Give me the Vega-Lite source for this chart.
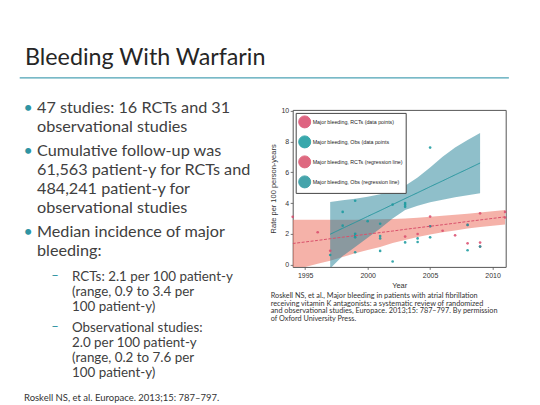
{
  "$schema": "https://vega.github.io/schema/vega-lite/v6.json",
  "padding": {"left": 19, "top": 45.6, "right": 0, "bottom": 0},
  "background": "white",
  "config": {
    "view": {"stroke": "transparent"},
    "title": {"font": "Lato", "fontWeight": "normal", "offset": 0, "frame": "group", "color": "#404040"},
    "axis": {"grid": false, "domain": false, "tickColor": "#555", "tickWidth": 0.8, "tickSize": 2.5, "labelFont": "Liberation Sans", "titleFont": "Liberation Sans", "labelFontSize": 7, "titleFontSize": 7.5, "titleFontWeight": "normal", "labelColor": "#333", "titleColor": "#333", "labelOverlap": false},
    "legend": {
      "title": null, "orient": "top-left", "offset": 3, "padding": 2.5,
      "strokeColor": "#444", "fillColor": "white",
      "labelFont": "Liberation Sans", "labelFontSize": 5.3, "labelColor": "#222", "labelLimit": 300, "labelOffset": 1.5,
      "rowPadding": 3, "symbolSize": 144, "symbolStrokeWidth": 1
    }
  },
  "datasets": {
    "pts": [
      {"year": 1994, "rate": 3.1, "s": "Major bleeding, RCTs (data points)"},
      {"year": 1996, "rate": 2.1, "s": "Major bleeding, RCTs (data points)"},
      {"year": 1997, "rate": 0.9, "s": "Major bleeding, RCTs (data points)"},
      {"year": 2003, "rate": 1.82, "s": "Major bleeding, RCTs (data points)"},
      {"year": 2004, "rate": 1.99, "s": "Major bleeding, RCTs (data points)"},
      {"year": 2005, "rate": 3.12, "s": "Major bleeding, RCTs (data points)"},
      {"year": 2005, "rate": 2.49, "s": "Major bleeding, RCTs (data points)"},
      {"year": 2006, "rate": 2.2, "s": "Major bleeding, RCTs (data points)"},
      {"year": 2007, "rate": 1.9, "s": "Major bleeding, RCTs (data points)"},
      {"year": 2008, "rate": 1.38, "s": "Major bleeding, RCTs (data points)"},
      {"year": 2008, "rate": 2.58, "s": "Major bleeding, RCTs (data points)"},
      {"year": 2009, "rate": 3.33, "s": "Major bleeding, RCTs (data points)"},
      {"year": 2009, "rate": 1.43, "s": "Major bleeding, RCTs (data points)"},
      {"year": 2009, "rate": 1.17, "s": "Major bleeding, RCTs (data points)"},
      {"year": 2011, "rate": 3.42, "s": "Major bleeding, RCTs (data points)"},
      {"year": 2011, "rate": 3.06, "s": "Major bleeding, RCTs (data points)"},
      {"year": 1997, "rate": 0.62, "s": "Major bleeding, Obs (data points"},
      {"year": 1998, "rate": 3.42, "s": "Major bleeding, Obs (data points"},
      {"year": 1998, "rate": 2.53, "s": "Major bleeding, Obs (data points"},
      {"year": 1999, "rate": 4.88, "s": "Major bleeding, Obs (data points"},
      {"year": 1999, "rate": 4.15, "s": "Major bleeding, Obs (data points"},
      {"year": 1999, "rate": 2.0, "s": "Major bleeding, Obs (data points"},
      {"year": 1999, "rate": 1.88, "s": "Major bleeding, Obs (data points"},
      {"year": 1999, "rate": 1.77, "s": "Major bleeding, Obs (data points"},
      {"year": 1999, "rate": 0.8, "s": "Major bleeding, Obs (data points"},
      {"year": 2000, "rate": 5.95, "s": "Major bleeding, Obs (data points"},
      {"year": 2000, "rate": 2.82, "s": "Major bleeding, Obs (data points"},
      {"year": 2001, "rate": 2.65, "s": "Major bleeding, Obs (data points"},
      {"year": 2001, "rate": 1.86, "s": "Major bleeding, Obs (data points"},
      {"year": 2001, "rate": 1.7, "s": "Major bleeding, Obs (data points"},
      {"year": 2001, "rate": 0.89, "s": "Major bleeding, Obs (data points"},
      {"year": 2002, "rate": 7.2, "s": "Major bleeding, Obs (data points"},
      {"year": 2002, "rate": 3.9, "s": "Major bleeding, Obs (data points"},
      {"year": 2002, "rate": 0.2, "s": "Major bleeding, Obs (data points"},
      {"year": 2003, "rate": 4.0, "s": "Major bleeding, Obs (data points"},
      {"year": 2003, "rate": 3.88, "s": "Major bleeding, Obs (data points"},
      {"year": 2003, "rate": 3.75, "s": "Major bleeding, Obs (data points"},
      {"year": 2003, "rate": 1.44, "s": "Major bleeding, Obs (data points"},
      {"year": 2004, "rate": 1.7, "s": "Major bleeding, Obs (data points"},
      {"year": 2004, "rate": 1.47, "s": "Major bleeding, Obs (data points"},
      {"year": 2005, "rate": 7.6, "s": "Major bleeding, Obs (data points"},
      {"year": 2005, "rate": 2.49, "s": "Major bleeding, Obs (data points"},
      {"year": 2005, "rate": 1.77, "s": "Major bleeding, Obs (data points"},
      {"year": 2008, "rate": 2.58, "s": "Major bleeding, Obs (data points"},
      {"year": 2008, "rate": 0.93, "s": "Major bleeding, Obs (data points"},
      {"year": 2009, "rate": 1.17, "s": "Major bleeding, Obs (data points"}
    ],
    "fits": [
      {"year": 1994, "fit": 1.37, "lo": -0.45, "hi": 2.92, "s": "Major bleeding, RCTs (regression line)"},
      {"year": 1995, "fit": 1.47, "lo": -0.15, "hi": 2.92, "s": "Major bleeding, RCTs (regression line)"},
      {"year": 1996, "fit": 1.57, "lo": 0.05, "hi": 2.92, "s": "Major bleeding, RCTs (regression line)"},
      {"year": 1997, "fit": 1.68, "lo": 0.25, "hi": 2.92, "s": "Major bleeding, RCTs (regression line)"},
      {"year": 1998, "fit": 1.78, "lo": 0.5, "hi": 2.92, "s": "Major bleeding, RCTs (regression line)"},
      {"year": 1999, "fit": 1.88, "lo": 0.73, "hi": 2.92, "s": "Major bleeding, RCTs (regression line)"},
      {"year": 2000, "fit": 1.98, "lo": 0.95, "hi": 2.93, "s": "Major bleeding, RCTs (regression line)"},
      {"year": 2001, "fit": 2.08, "lo": 1.15, "hi": 2.94, "s": "Major bleeding, RCTs (regression line)"},
      {"year": 2002, "fit": 2.18, "lo": 1.4, "hi": 2.96, "s": "Major bleeding, RCTs (regression line)"},
      {"year": 2003, "fit": 2.29, "lo": 1.6, "hi": 3.0, "s": "Major bleeding, RCTs (regression line)"},
      {"year": 2004, "fit": 2.39, "lo": 1.8, "hi": 3.05, "s": "Major bleeding, RCTs (regression line)"},
      {"year": 2005, "fit": 2.49, "lo": 1.95, "hi": 3.1, "s": "Major bleeding, RCTs (regression line)"},
      {"year": 2006, "fit": 2.59, "lo": 2.1, "hi": 3.17, "s": "Major bleeding, RCTs (regression line)"},
      {"year": 2007, "fit": 2.69, "lo": 2.22, "hi": 3.24, "s": "Major bleeding, RCTs (regression line)"},
      {"year": 2008, "fit": 2.8, "lo": 2.35, "hi": 3.31, "s": "Major bleeding, RCTs (regression line)"},
      {"year": 2009, "fit": 2.9, "lo": 2.45, "hi": 3.39, "s": "Major bleeding, RCTs (regression line)"},
      {"year": 2010, "fit": 3.0, "lo": 2.52, "hi": 3.46, "s": "Major bleeding, RCTs (regression line)"},
      {"year": 2011, "fit": 3.1, "lo": 2.6, "hi": 3.55, "s": "Major bleeding, RCTs (regression line)"},
      {"year": 1997, "fit": 1.97, "lo": -0.25, "hi": 4.07, "s": "Major bleeding, Obs (regression line)"},
      {"year": 1998, "fit": 2.36, "lo": 0.55, "hi": 4.18, "s": "Major bleeding, Obs (regression line)"},
      {"year": 1999, "fit": 2.74, "lo": 1.15, "hi": 4.28, "s": "Major bleeding, Obs (regression line)"},
      {"year": 2000, "fit": 3.13, "lo": 1.75, "hi": 4.4, "s": "Major bleeding, Obs (regression line)"},
      {"year": 2001, "fit": 3.51, "lo": 2.35, "hi": 4.57, "s": "Major bleeding, Obs (regression line)"},
      {"year": 2002, "fit": 3.9, "lo": 3.0, "hi": 4.8, "s": "Major bleeding, Obs (regression line)"},
      {"year": 2003, "fit": 4.29, "lo": 3.55, "hi": 5.12, "s": "Major bleeding, Obs (regression line)"},
      {"year": 2004, "fit": 4.67, "lo": 3.82, "hi": 5.65, "s": "Major bleeding, Obs (regression line)"},
      {"year": 2005, "fit": 5.06, "lo": 4.05, "hi": 6.3, "s": "Major bleeding, Obs (regression line)"},
      {"year": 2006, "fit": 5.44, "lo": 4.22, "hi": 7.0, "s": "Major bleeding, Obs (regression line)"},
      {"year": 2007, "fit": 5.83, "lo": 4.38, "hi": 7.6, "s": "Major bleeding, Obs (regression line)"},
      {"year": 2008, "fit": 6.21, "lo": 4.5, "hi": 8.1, "s": "Major bleeding, Obs (regression line)"},
      {"year": 2009, "fit": 6.6, "lo": 4.63, "hi": 8.55, "s": "Major bleeding, Obs (regression line)"}
    ]
  },
  "spacing": 17.3,
  "resolve": {"scale": {"color": "independent"}, "legend": {"color": "independent"}},
  "vconcat": [
    {
      "width": 488, "height": 0.01,
      "view": {"stroke": "#4da3b5", "strokeWidth": 1.2},
      "data": {"values": []}, "mark": "text",
      "title": {"text": "Bleeding With Warfarin", "anchor": "start", "fontSize": 23.3, "dx": 5, "offset": 7.1, "color": "#262626"}
    },
    {
      "spacing": 14.7,
      "resolve": {"scale": {"color": "independent"}, "legend": {"color": "independent"}},
      "hconcat": [
        {
          "spacing": 0,
          "vconcat": [
            {"spacing": 0, "hconcat": [
              {"width": 16.3, "height": 0.01, "data": {"values": []}, "mark": "text", "title": {"text": "•", "orient": "bottom", "fontSize": 16, "anchor": "middle", "color": "#2f94a3"}},
              {"width": 216.3, "height": 0.01, "data": {"values": []}, "mark": "text", "title": {"text": ["47 studies: 16 RCTs and 31", "observational studies"], "orient": "bottom", "fontSize": 16.2, "lineHeight": 18.7, "anchor": "start"}}
            ]},
            {"spacing": 0, "hconcat": [
              {"width": 16.3, "height": 4.6, "data": {"values": []}, "mark": "text", "title": {"text": "•", "orient": "bottom", "fontSize": 16, "anchor": "middle", "color": "#2f94a3"}},
              {"width": 216.3, "height": 4.6, "data": {"values": []}, "mark": "text", "title": {"text": ["Cumulative follow-up was", "61,563 patient-y for RCTs and", "484,241 patient-y for", "observational studies"], "orient": "bottom", "fontSize": 16.2, "lineHeight": 18.7, "anchor": "start"}}
            ]},
            {"spacing": 0, "hconcat": [
              {"width": 16.3, "height": 4.3, "data": {"values": []}, "mark": "text", "title": {"text": "•", "orient": "bottom", "fontSize": 16, "anchor": "middle", "color": "#2f94a3"}},
              {"width": 216.3, "height": 4.3, "data": {"values": []}, "mark": "text", "title": {"text": ["Median incidence of major", "bleeding:"], "orient": "bottom", "fontSize": 16.2, "lineHeight": 18.7, "anchor": "start"}}
            ]},
            {"spacing": 0, "hconcat": [
              {"width": 51.2, "height": 6.1, "data": {"values": []}, "mark": "text", "title": {"text": "–", "orient": "bottom", "fontSize": 13, "anchor": "start", "dx": 31.2, "color": "#2f94a3"}},
              {"width": 181.4, "height": 6.1, "data": {"values": []}, "mark": "text", "title": {"text": ["RCTs: 2.1 per 100 patient-y", "(range, 0.9 to 3.4 per", "100 patient-y)"], "orient": "bottom", "fontSize": 13.4, "lineHeight": 15, "anchor": "start"}}
            ]},
            {"spacing": 0, "hconcat": [
              {"width": 51.2, "height": 3.3, "data": {"values": []}, "mark": "text", "title": {"text": "–", "orient": "bottom", "fontSize": 13, "anchor": "start", "dx": 31.2, "color": "#2f94a3"}},
              {"width": 181.4, "height": 3.3, "data": {"values": []}, "mark": "text", "title": {"text": ["Observational studies:", "2.0 per 100 patient-y", "(range, 0.2 to 7.6 per", "100 patient-y)"], "orient": "bottom", "fontSize": 13.4, "lineHeight": 15, "anchor": "start"}}
            ]},
            {"width": 232.6, "height": 9.5, "data": {"values": []}, "mark": "text", "title": {"text": "Roskell NS, et al. Europace. 2013;15: 787–797.", "orient": "bottom", "fontSize": 9.5, "anchor": "start", "dx": 4, "color": "#333"}}
          ]
        },
        {
          "spacing": 9,
          "resolve": {"scale": {"color": "independent"}, "legend": {"color": "independent"}},
          "vconcat": [
            {"width": 1, "height": 0.01, "data": {"values": []}, "mark": "text"},
            {
              "width": 213, "height": 157,
              "view": {"stroke": "#555", "strokeWidth": 1},
              "title": {"text": ["Roskell NS, et al., Major bleeding in patients with atrial fibrillation", "receiving vitamin K antagonists: a systematic review of randomized", "and observational studies, Europace. 2013;15:  787–797. By permission", "of Oxford University Press."], "orient": "bottom", "anchor": "start", "frame": "bounds", "fontSize": 7.3, "lineHeight": 7.6, "offset": 3.3, "dx": 1.3, "color": "#333"},
              "encoding": {
                "x": {"field": "year", "type": "quantitative", "scale": {"domain": [1994, 2011.05], "nice": false, "zero": false}, "title": "Year", "axis": {"values": [1995, 2000, 2005, 2010], "format": "d", "labelPadding": 2, "titlePadding": 3}}
              },
              "layer": [
                {
                  "data": {"name": "fits"},
                  "transform": [{"filter": "datum.s === 'Major bleeding, RCTs (regression line)'"}],
                  "mark": {"type": "area", "color": "#ee7f70", "opacity": 0.6, "clip": true},
                  "encoding": {
                    "y": {"field": "lo", "type": "quantitative", "scale": {"domain": [-0.15, 10.05], "nice": false, "zero": false}, "title": "Rate per 100 person-years", "axis": {"values": [0, 2, 4, 6, 8, 10], "labelOverlap": false, "labelPadding": 1.5, "titlePadding": 3.5}},
                    "y2": {"field": "hi"}
                  }
                },
                {
                  "data": {"name": "fits"},
                  "transform": [{"filter": "datum.s === 'Major bleeding, Obs (regression line)'"}],
                  "mark": {"type": "area", "color": "#1f7f95", "opacity": 0.5, "clip": true},
                  "encoding": {
                    "y": {"field": "lo", "type": "quantitative", "title": "Rate per 100 person-years", "axis": {"values": [0, 2, 4, 6, 8, 10], "labelOverlap": false, "labelPadding": 1.5, "titlePadding": 3.5}},
                    "y2": {"field": "hi"}
                  }
                },
                {
                  "data": {"name": "pts"},
                  "mark": {"type": "circle", "size": 7, "opacity": 0.85},
                  "encoding": {
                    "y": {"field": "rate", "type": "quantitative", "title": "Rate per 100 person-years", "axis": {"values": [0, 2, 4, 6, 8, 10], "labelOverlap": false, "labelPadding": 1.5, "titlePadding": 3.5}},
                    "color": {
                      "field": "s", "type": "nominal",
                      "scale": {"domain": ["Major bleeding, RCTs (data points)", "Major bleeding, Obs (data points", "Major bleeding, RCTs (regression line)", "Major bleeding, Obs (regression line)"], "range": ["#d94a6c", "#16999e", "#d9506a", "#25959d"]},
                      "legend": {
                        "encode": {"symbols": {
                          "shape": {"value": {"expr": "indexof(datum.value, 'regression') >= 0 ? 'stroke' : 'circle'"}},
                          "size": {"value": {"expr": "indexof(datum.value, 'regression') >= 0 ? 144 : 5"}},
                          "fill": {"value": {"expr": "datum.value === 'Major bleeding, RCTs (data points)' ? '#d94a6c' : datum.value === 'Major bleeding, Obs (data points' ? '#16999e' : 'transparent'"}},
                          "stroke": {"value": {"expr": "datum.value === 'Major bleeding, RCTs (regression line)' ? '#d9506a' : datum.value === 'Major bleeding, Obs (regression line)' ? '#25959d' : 'transparent'"}},
                          "strokeDash": {"value": {"expr": "datum.value === 'Major bleeding, RCTs (regression line)' ? [3, 1.5] : [1, 0]"}},
                          "strokeWidth": {"value": 1},
                          "opacity": {"value": 1}
                        }}
                      }
                    }
                  }
                },
                {
                  "data": {"name": "fits"},
                  "mark": {"type": "line", "strokeWidth": 1, "clip": true},
                  "encoding": {
                    "y": {"field": "fit", "type": "quantitative", "title": "Rate per 100 person-years", "axis": {"values": [0, 2, 4, 6, 8, 10], "labelOverlap": false, "labelPadding": 1.5, "titlePadding": 3.5}},
                    "color": {"field": "s", "type": "nominal"},
                    "strokeDash": {"field": "s", "type": "nominal", "scale": {"domain": ["Major bleeding, RCTs (regression line)", "Major bleeding, Obs (regression line)"], "range": [[3, 1.5], [1, 0]]}, "legend": null}
                  }
                }
              ]
            }
          ]
        }
      ]
    }
  ]
}
